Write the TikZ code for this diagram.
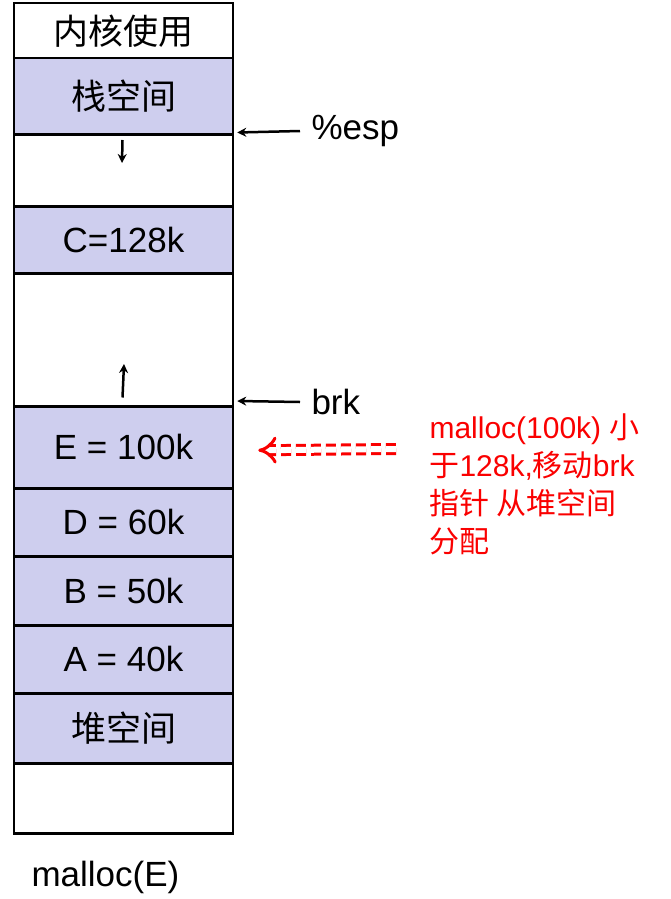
\documentclass[tikz,border=0pt]{standalone}
\usepackage{fontspec}
\setmainfont{Liberation Sans}
\newfontfamily\cjk{Noto Sans CJK SC}
\usetikzlibrary{arrows, arrows.meta, calc}
\definecolor{cell}{RGB}{206,206,238}
\definecolor{hot}{RGB}{250,0,0}
\tikzset{
  seg/.style={draw=black, line width=2.5pt, fill=#1, minimum width=219pt, inner sep=0pt, anchor=north, font=\fontsize{35}{35}\selectfont},
  ptr/.style={-{Stealth[length=9pt,width=9pt]}, line width=2.5pt},
  lbl/.style={font=\fontsize{35}{35}\selectfont, anchor=west}
}
\begin{document}
\begin{tikzpicture}[x=1pt, y=-1pt]
\useasboundingbox (0,0) rectangle (670,899);
\node[seg=white, minimum height=55pt] (kern) at (123.5,2) {\cjk 内核使用};
\node[seg=cell, minimum height=76pt] (stack) at (123.5,57) {\cjk 栈空间};
\node[seg=white, minimum height=72pt] (gap1) at (123.5,133) {};
\node[seg=cell, minimum height=67pt] (c) at (123.5,205) {C=128k};
\node[seg=white, minimum height=133pt] (gap2) at (123.5,272) {};
\node[seg=cell, minimum height=82pt] (e) at (123.5,405) {E = 100k};
\node[seg=cell, minimum height=68pt] (d) at (123.5,487) {D = 60k};
\node[seg=cell, minimum height=69pt] (b) at (123.5,555) {B = 50k};
\node[seg=cell, minimum height=68pt] (a) at (123.5,624) {A = 40k};
\node[seg=cell, minimum height=70pt] (heap) at (123.5,692) {\cjk 堆空间};
\node[seg=white, minimum height=70pt] (gap3) at (123.5,762) {};
% growth of stack and heap
\coordinate (sdown) at (122,163);
\coordinate (hup) at (124,364);
\draw[ptr] ($(gap1.north)+(-1,7)$) -- (sdown);
\draw[ptr] ($(gap2.south)+(-1,-10)$) -- (hup);
% pointers
\node[lbl] (esp) at (308,131) {\%esp};
\node[lbl] (brk) at (308,402) {brk};
\draw[ptr] ($(esp.west)+(-8,0)$) -- ($(stack.south east)+(3,-3)$);
\draw[ptr] ($(brk.west)+(-8,0)$) -- ($(e.north east)+(3,-4)$);
% malloc request
\node[lbl, text=hot, align=left, anchor=north west, font=\fontsize{30}{38}\selectfont] (note) at (426,410)
  {malloc(100k) {\cjk 小}\\{\cjk 于}128k,{\cjk 移动}brk\\{\cjk 指针 从堆空间}\\{\cjk 分配}};
\coordinate (tail) at (396,449);
\draw[hot, line width=3pt, double=white, double distance=6pt, dash pattern=on 10pt off 5pt, -{Implies}] (tail) -- ($(e.east)+(24,3)$);
\node[lbl] (call) at (28,877) {malloc(E)};
\end{tikzpicture}
\end{document}
